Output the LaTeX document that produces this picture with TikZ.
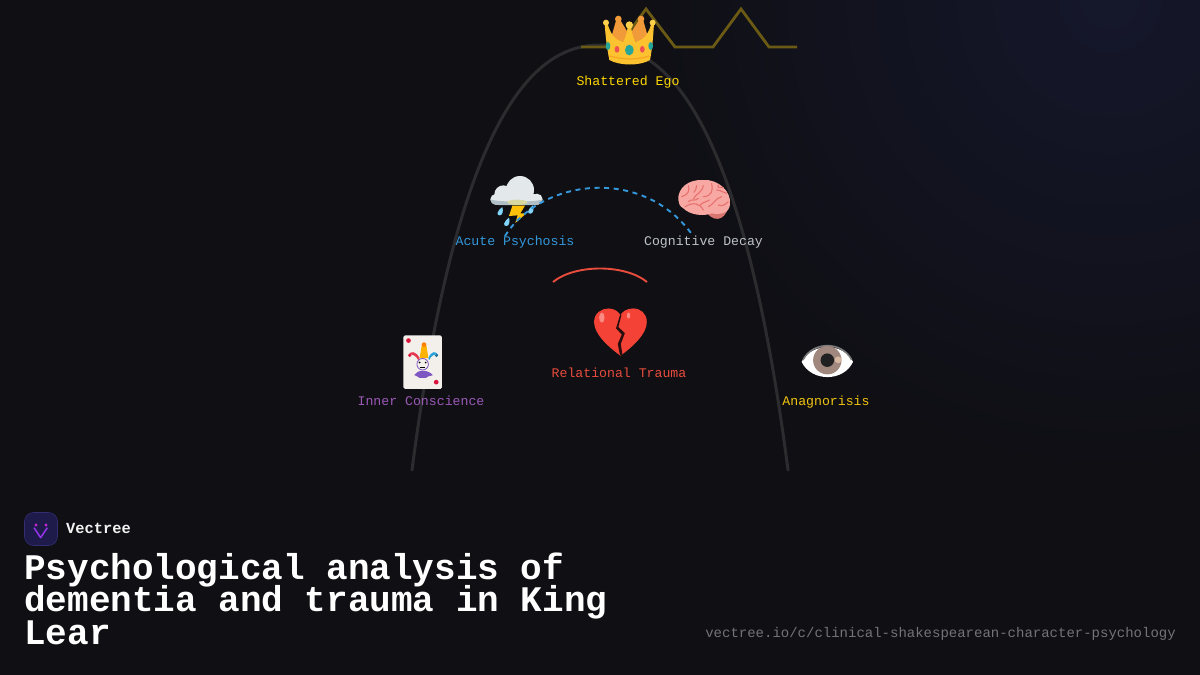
\documentclass[tikz,border=0pt]{standalone}
\usepackage{fontspec}
\setmainfont{Liberation Sans}
\newfontfamily\monof{Liberation Mono}
\usetikzlibrary{calc}
\definecolor{bgbase}{HTML}{0F0F14}
\definecolor{bgglow}{HTML}{15172B}
\definecolor{archgray}{HTML}{2C2C2E}
\definecolor{ekg}{HTML}{6A5A14}
\definecolor{cblue}{HTML}{3498DB}
\definecolor{cred}{HTML}{E74C3C}
\definecolor{cpurple}{HTML}{9B59B6}
\definecolor{cyellow}{HTML}{F1C40F}
\definecolor{cgold}{HTML}{FFD700}
\definecolor{cgray}{HTML}{BDC3C7}
\definecolor{logofill}{HTML}{1E1B4B}
\definecolor{logoedge}{HTML}{312E71}
\definecolor{logov}{HTML}{9333EA}
\definecolor{logod}{HTML}{C026D3}
\definecolor{crownback}{HTML}{F19A3A}
\definecolor{crownfront}{HTML}{FDC22F}
\definecolor{crownball}{HTML}{FFD04A}
\definecolor{crownline}{HTML}{F5A623}
\definecolor{gemteal}{HTML}{26A69A}
\definecolor{gemred}{HTML}{EF4F4F}
\definecolor{cloudtop}{HTML}{E3E8EB}
\definecolor{cloudlow}{HTML}{B0BEC5}
\definecolor{cloudglow}{HTML}{D9D7A0}
\definecolor{bolt}{HTML}{FFC107}
\definecolor{drop}{HTML}{81D4FA}
\definecolor{brainpink}{HTML}{F7A8A2}
\definecolor{brainvein}{HTML}{E8716F}
\definecolor{braindark}{HTML}{D8756F}
\definecolor{heartred}{HTML}{F44336}
\definecolor{heartglint}{HTML}{F98B82}
\definecolor{heartcrack}{HTML}{2A0E0E}
\definecolor{cardface}{HTML}{F3EFEA}
\definecolor{cardred}{HTML}{DC143C}
\definecolor{hatgold}{HTML}{FFB300}
\definecolor{hatred}{HTML}{E53950}
\definecolor{hatblue}{HTML}{29A3DA}
\definecolor{jester}{HTML}{7E57C2}
\definecolor{eyelid}{HTML}{7A7A7A}
\definecolor{iris}{HTML}{A1887F}
\definecolor{pupil}{HTML}{212121}
\definecolor{glint}{HTML}{D7B8A0}
\tikzset{
  lbl/.style={anchor=base,font=\monof\fontsize{13.2}{13.2}\selectfont,inner sep=0pt},
  ttl/.style={anchor=base west,inner sep=0pt,text=white,font=\monof\bfseries\fontsize{36}{36}\selectfont},
  arch/.style={draw=archgray,line width=3pt,line cap=round},
  pulse/.style={draw=ekg,line width=2.8pt,line join=miter},
  bluearc/.style={draw=cblue,line width=1.9pt,dash pattern=on 5pt off 4.6pt},
  redarc/.style={draw=cred,line width=1.9pt},
  zoomed/.style={scale=1/3},
  zoomedb/.style={scale=1/2.958},
  vein/.style={draw=brainvein,line width=1.1pt,line cap=round,line join=round,fill=none},
}
\begin{document}
\begin{tikzpicture}[x=1pt,y=-1pt]
\useasboundingbox (0,0) rectangle (1200,675);
\fill[bgbase] (0,0) rectangle (1200,675);
\begin{scope}
\clip (0,0) rectangle (1200,675);
\shade[inner color=bgglow,outer color=bgbase] (1110,0) circle (470);
\end{scope}

% coordinates for connectors
\coordinate (archL) at (412,470);
\coordinate (archT) at (600,45);
\coordinate (archR) at (788,470);
\coordinate (p1) at (581,47); \coordinate (p2) at (618,47); \coordinate (p3) at (646,9);
\coordinate (p4) at (675,47); \coordinate (p5) at (713,47); \coordinate (p6) at (741,9);
\coordinate (p7) at (769,47); \coordinate (p8) at (797,47);
\coordinate (blueA) at (505,236);
\coordinate (blueB) at (691,233);
\coordinate (redA) at (553,282);
\coordinate (redB) at (647,282);

\draw[arch] (archL) .. controls (460,100) and (540,45) .. (archT)
  .. controls (660,45) and (740,100) .. (archR);
\draw[pulse] (p1) -- (p2) -- (p3) -- (p4) -- (p5) -- (p6) -- (p7) -- (p8);

% crown
\begin{scope}[shift={(560,0)},zoomed]
  \fill[crownback] (150,125) -- (168,62) -- (182,62) -- (208,105) -- (236,62) -- (250,62) -- (268,125) -- cycle;
  \fill[crownfront] (134,68) -- (142,68) .. controls (150,100) and (165,122) .. (190,125)
    .. controls (198,110) and (203,90) .. (203,75) -- (213,75)
    .. controls (213,90) and (218,110) .. (226,125)
    .. controls (250,122) and (268,100) .. (274,68) -- (282,68)
    .. controls (280,110) and (276,150) .. (270,180)
    .. controls (240,198) and (180,198) .. (148,180)
    .. controls (142,150) and (136,110) .. (134,68) -- cycle;
  \draw[crownline,line width=1.2pt] (150,168) .. controls (190,180) and (230,180) .. (268,168);
  \fill[crownback] (175,57) circle (10);
  \fill[crownback] (243,57) circle (10);
  \fill[crownball] (138,68) circle (9);
  \fill[crownball] (208,75) circle (11);
  \fill[crownball] (278,68) circle (9);
  \fill[gemteal] (208,150) ellipse (13 and 16);
  \fill[gemteal] (144,138) ellipse (7 and 12);
  \fill[gemteal] (272,138) ellipse (7 and 12);
  \fill[gemred] (171,148) ellipse (7 and 10);
  \fill[gemred] (247,148) ellipse (7 and 10);
\end{scope}

% storm cloud
\begin{scope}[shift={(440,165)},zoomed]
  \fill[cloudtop] (240,75) circle (42);
  \fill[cloudtop] (190,88) circle (27);
  \fill[cloudtop] (167,103) circle (16);
  \fill[cloudtop] (291,103) circle (17);
  \fill[cloudtop] (167,88) rectangle (291,118);
  \fill[cloudlow] (151,103) .. controls (155,118) and (165,120) .. (175,120) -- (285,120)
     .. controls (298,120) and (306,115) .. (308,103)
     .. controls (290,112) and (170,112) .. (151,103) -- cycle;
  \fill[cloudglow] (232,112) ellipse (30 and 8);
  \fill[bolt] (217,122) -- (255,122) -- (241,145) -- (259,145) -- (226,174)
     -- (233,151) -- (207,153) -- cycle;
  \foreach \dx/\dy in {180/140,200/172,272/135}{
    \fill[drop] (\dx+7,\dy-14) .. controls (\dx+11,\dy) and (\dx+7,\dy+11) .. (\dx-1,\dy+11)
      .. controls (\dx-11,\dy+11) and (\dx-11,\dy) .. (\dx+7,\dy-14) -- cycle;
  }
\end{scope}

% brain
\begin{scope}[shift={(440,165)},zoomed]
  \fill[braindark] (795,135) .. controls (815,172) and (855,172) .. (865,125) -- cycle;
  \fill[brainpink] (715,105) .. controls (712,70) and (745,42) .. (790,45)
    .. controls (835,42) and (875,80) .. (870,118)
    .. controls (868,145) and (840,150) .. (815,145)
    .. controls (790,155) and (750,150) .. (730,130)
    .. controls (720,125) and (715,115) .. (715,105) -- cycle;
  \draw[vein] (725,95) .. controls (745,90) and (750,75) .. (745,62);
  \draw[vein] (735,125) .. controls (760,110) and (780,115) .. (790,135);
  \draw[vein] (760,102) .. controls (768,85) and (785,85) .. (790,62);
  \draw[vein] (790,95) .. controls (815,95) and (820,75) .. (815,55);
  \draw[vein] (805,125) .. controls (825,115) and (825,100) .. (845,95);
  \draw[vein] (835,120) .. controls (845,125) and (855,120) .. (865,110);
  \draw[vein] (830,75) .. controls (845,75) and (850,85) .. (860,85);
  \draw[vein] (745,110) .. controls (755,100) and (765,110) .. (775,100);
  \draw[vein] (770,62) .. controls (765,70) and (770,78) .. (762,82);
  \draw[vein] (835,60) .. controls (830,72) and (838,65) .. (850,68);
  \draw[vein] (780,120) .. controls (790,110) and (800,112) .. (808,105);
\end{scope}

% broken heart
\begin{scope}[shift={(350,300)},zoomedb]
  \fill[heartred] (800,165) .. controls (760,135) and (722,100) .. (722,65)
     .. controls (722,38) and (745,25) .. (765,25)
     .. controls (782,25) and (795,35) .. (800,45)
     .. controls (805,35) and (818,25) .. (838,25)
     .. controls (860,25) and (878,40) .. (878,65)
     .. controls (878,100) and (840,135) .. (800,165) -- cycle;
  \fill[heartcrack] (799,44) -- (803,44) -- (794,80) -- (813,98) -- (801,130) -- (806,162) -- (799,164) -- (792,130) -- (804,102) -- (787,84) -- cycle;
  \fill[heartglint] (745,52) ellipse (8 and 15);
  \fill[heartglint] (824,46) ellipse (5 and 9);
\end{scope}

% joker card
\begin{scope}[shift={(350,300)},zoomedb]
  \fill[cardface, rounded corners=1.5pt] (158,105) rectangle (272,263);
  \fill[cardred] (173,120) circle (7);
  \fill[cardred] (255,243) circle (7);
  \fill[jester] (190,222) .. controls (200,205) and (230,205) .. (245,222)
     .. controls (235,228) and (230,222) .. (225,230) -- (205,230)
     .. controls (200,222) and (195,228) .. (190,222) -- cycle;
  \fill[hatgold] (206,172) -- (212,135) -- (226,135) -- (232,172) -- cycle;
  \fill[orange] (219,132) circle (7);
  \fill[hatred] (206,172) .. controls (195,150) and (178,150) .. (172,163)
     .. controls (185,158) and (195,165) .. (202,178) -- cycle;
  \fill[cardred] (177,164) circle (5);
  \fill[hatblue] (232,172) .. controls (240,150) and (255,150) .. (261,163)
     .. controls (250,158) and (240,165) .. (234,178) -- cycle;
  \fill[hatblue!70!black] (256,164) circle (5);
  \fill[cardface] (215,190) circle (17);
  \draw[jester,line width=.8pt] (215,190) circle (17);
  \fill[black] (206,185) circle (2.8);
  \fill[black] (224,185) circle (2.8);
  \draw[black,line width=.5pt] (208,198) -- (222,198);
\end{scope}

% eye
\begin{scope}[shift={(350,300)},zoomedb]
  \fill[white] (1336,183) .. controls (1365,125) and (1460,125) .. (1488,183)
    .. controls (1460,243) and (1365,243) .. (1336,183) -- cycle;
  \draw[eyelid,line width=1.6pt] (1340,177) .. controls (1370,121) and (1455,121) .. (1484,177);
  \fill[iris] (1412,178) circle (42);
  \fill[pupil] (1412,178) circle (20);
  \fill[glint] (1444,177) circle (10);
\end{scope}

% connectors over emoji
\draw[bluearc] (blueA) .. controls (540,180) and (640,165) .. (blueB);
\draw[redarc] (redA) .. controls (575,264) and (625,264) .. (redB);

% labels
\node[lbl,text=cgold] (ego) at (628,85) {Shattered Ego};
\node[lbl,text=cblue] (acute) at (515,245) {Acute Psychosis};
\node[lbl,text=cgray] (decay) at (703.5,245) {Cognitive Decay};
\node[lbl,text=cred] (trauma) at (619,377) {Relational Trauma};
\node[lbl,text=cpurple] (conscience) at (421,405) {Inner Conscience};
\node[lbl,text=cyellow] (anag) at (826,405) {Anagnorisis};

% logo
\draw[draw=logoedge,fill=logofill,line width=.6pt,rounded corners=9pt] (24.5,512.5) rectangle (57.5,545.5);
\begin{scope}[shift={(10,505)},zoomed]
  \draw[draw=logov,line width=1.5pt,line join=round] (72,68) -- (92,98) -- (112,68);
  \fill[logod] (78,60) circle (5);
  \fill[logod] (108,60) circle (5);
\end{scope}
\node[anchor=base west,inner sep=0pt,text=white!90!gray,font=\monof\bfseries\fontsize{15.4}{15.4}\selectfont] (brand) at (66,533) {Vectree};

% title
\node[ttl] (t1) at (24,579) {Psychological analysis of};
\node[ttl] (t2) at (24,611) {dementia and trauma in King};
\node[ttl] (t3) at (24,644) {Lear};
\node[anchor=base east,inner sep=0pt,text=white!42!bgbase,font=\monof\fontsize{14}{14}\selectfont] (url) at (1176,637) {vectree.io/c/clinical-shakespearean-character-psychology};
\end{tikzpicture}
\end{document}
